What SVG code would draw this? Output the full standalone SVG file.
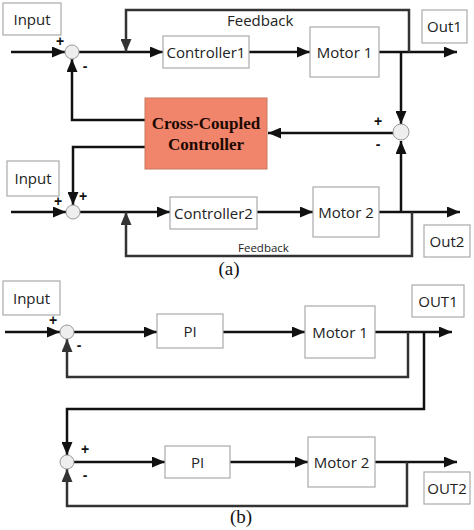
<svg xmlns="http://www.w3.org/2000/svg" width="474" height="530" viewBox="0 0 474 530">
<style>
.box{fill:#fff;stroke:#aaa;stroke-width:1.2}
.sum{fill:#eee;stroke:#999;stroke-width:1}
.ln{fill:none;stroke:#111;stroke-width:2.5}
.fb{fill:none;stroke:#333;stroke-width:2.5}
.t{font-family:"Open Sans","Noto Sans",sans-serif;font-size:15px;fill:#222}
.s{font-family:"Liberation Sans",Arial,sans-serif;font-size:14px;font-weight:bold;fill:#111}
.cap{font-family:"Liberation Serif","Times New Roman",serif;font-size:19px;fill:#111}
.cc{font-family:"Liberation Serif","Times New Roman",serif;font-size:17px;font-weight:bold;fill:#1e0800}
</style>
<defs>
<marker id="ab" markerUnits="userSpaceOnUse" markerWidth="13" markerHeight="11" refX="13" refY="5.5" orient="auto"><path d="M0,0 L13,5.5 L0,11 z" fill="#111"/></marker>
<marker id="ag" markerUnits="userSpaceOnUse" markerWidth="13" markerHeight="11" refX="13" refY="5.5" orient="auto"><path d="M0,0 L13,5.5 L0,11 z" fill="#333"/></marker>
</defs>
<g id="connectors">
<path class="ln" d="M11,52 H65" marker-end="url(#ab)"/>
<path class="ln" d="M79,52 H163" marker-end="url(#ab)"/>
<path class="ln" d="M249,52 H310" marker-end="url(#ab)"/>
<path class="ln" d="M379,52 H457" marker-end="url(#ab)"/>
<path class="fb" d="M409,52 V10 H126 V52" marker-end="url(#ag)"/>
<path class="ln" d="M401,52 V124" marker-end="url(#ab)"/>
<path class="ln" d="M393,133 H268" marker-end="url(#ab)"/>
<path class="ln" d="M145,120 H72 V59" marker-end="url(#ab)"/>
<path class="ln" d="M145,147 H73 V205" marker-end="url(#ab)"/>
<path class="ln" d="M11,212 H66" marker-end="url(#ab)"/>
<path class="ln" d="M80,212 H170" marker-end="url(#ab)"/>
<path class="ln" d="M257,212 H313" marker-end="url(#ab)"/>
<path class="ln" d="M379,212 H460" marker-end="url(#ab)"/>
<path class="ln" d="M401,212 V141" marker-end="url(#ab)"/>
<path class="fb" d="M412,212 V256 H126 V212" marker-end="url(#ag)"/>
<path class="ln" d="M5,332 H60" marker-end="url(#ab)"/>
<path class="ln" d="M74,332 H157" marker-end="url(#ab)"/>
<path class="ln" d="M223,332 H305" marker-end="url(#ab)"/>
<path class="ln" d="M375,332 H452" marker-end="url(#ab)"/>
<path class="fb" d="M408,332 V377 H67 V339" marker-end="url(#ag)"/>
<path class="ln" d="M424,332 V409 H67 V455" marker-end="url(#ab)"/>
<path class="ln" d="M74,462 H165" marker-end="url(#ab)"/>
<path class="ln" d="M230,462 H308" marker-end="url(#ab)"/>
<path class="ln" d="M375,462 H457" marker-end="url(#ab)"/>
<path class="fb" d="M407,462 V506 H67 V469" marker-end="url(#ag)"/>
</g>
<g id="input-a1"><rect class="box" x="3" y="3" width="58" height="32"/><text class="t" x="32" y="24.5" text-anchor="middle">Input</text></g>
<g id="sum-a1"><circle class="sum" cx="72" cy="52" r="7"/><text class="s" x="60" y="46" text-anchor="middle">+</text><text class="s" x="85" y="71" text-anchor="middle">-</text></g>
<g id="controller1"><rect class="box" x="163" y="36" width="86" height="32"/><text class="t" x="206" y="57.5" text-anchor="middle">Controller1</text></g>
<g id="motor1-a"><rect class="box" x="310" y="27" width="69" height="50"/><text class="t" x="344.5" y="57.5" text-anchor="middle">Motor 1</text></g>
<g id="out1"><rect class="box" x="422" y="10" width="45" height="33"/><text class="t" x="444.5" y="32" text-anchor="middle">Out1</text></g>
<g id="feedback-a1"><text class="t" x="227" y="25.5">Feedback</text></g>
<g id="sum-a3"><circle class="sum" cx="401" cy="132" r="8"/><text class="s" x="378" y="126" text-anchor="middle">+</text><text class="s" x="378" y="149" text-anchor="middle">-</text></g>
<g id="ccc"><rect x="145" y="98" width="122" height="71" fill="#F0856B" stroke="#c8765f" stroke-width="1"/><text class="cc" x="206" y="129" text-anchor="middle">Cross-Coupled</text><text class="cc" x="206" y="150" text-anchor="middle">Controller</text></g>
<g id="input-a2"><rect class="box" x="7" y="161" width="52" height="35"/><text class="t" x="33" y="183.5" text-anchor="middle">Input</text></g>
<g id="sum-a2"><circle class="sum" cx="73" cy="212" r="7"/><text class="s" x="58" y="206" text-anchor="middle">+</text><text class="s" x="83" y="201" text-anchor="middle">+</text></g>
<g id="controller2"><rect class="box" x="170" y="197" width="87" height="32"/><text class="t" x="213.5" y="218.5" text-anchor="middle">Controller2</text></g>
<g id="motor2-a"><rect class="box" x="313" y="187" width="66" height="50"/><text class="t" x="346" y="217.5" text-anchor="middle">Motor 2</text></g>
<g id="out2"><rect class="box" x="424" y="225" width="46" height="32"/><text class="t" x="447" y="246.5" text-anchor="middle">Out2</text></g>
<g id="feedback-a2"><text class="t" x="238" y="251.5" style="font-size:11.5px">Feedback</text></g>
<g id="cap-a"><text class="cap" x="229" y="275" text-anchor="middle">(a)</text></g>
<g id="input-b"><rect class="box" x="3" y="281" width="57" height="34"/><text class="t" x="31.5" y="303.5" text-anchor="middle">Input</text></g>
<g id="sum-b1"><circle class="sum" cx="67" cy="332" r="7"/><text class="s" x="53" y="325" text-anchor="middle">+</text><text class="s" x="79" y="350" text-anchor="middle">-</text></g>
<g id="pi1"><rect class="box" x="157" y="314" width="66" height="34"/><text class="t" x="190" y="336.5" text-anchor="middle">PI</text></g>
<g id="motor1-b"><rect class="box" x="305" y="306" width="70" height="52"/><text class="t" x="340" y="337.5" text-anchor="middle">Motor 1</text></g>
<g id="out1-b"><rect class="box" x="412" y="285" width="52" height="32"/><text class="t" x="438" y="306.5" text-anchor="middle">OUT1</text></g>
<g id="sum-b2"><circle class="sum" cx="67" cy="462" r="7"/><text class="s" x="85" y="454" text-anchor="middle">+</text><text class="s" x="85" y="480" text-anchor="middle">-</text></g>
<g id="pi2"><rect class="box" x="165" y="446" width="65" height="32"/><text class="t" x="197.5" y="467.5" text-anchor="middle">PI</text></g>
<g id="motor2-b"><rect class="box" x="308" y="437" width="67" height="50"/><text class="t" x="341.5" y="467.5" text-anchor="middle">Motor 2</text></g>
<g id="out2-b"><rect class="box" x="424" y="472" width="46" height="32"/><text class="t" x="447" y="493.5" text-anchor="middle">OUT2</text></g>
<g id="cap-b"><text class="cap" x="241" y="523" text-anchor="middle">(b)</text></g>
</svg>
